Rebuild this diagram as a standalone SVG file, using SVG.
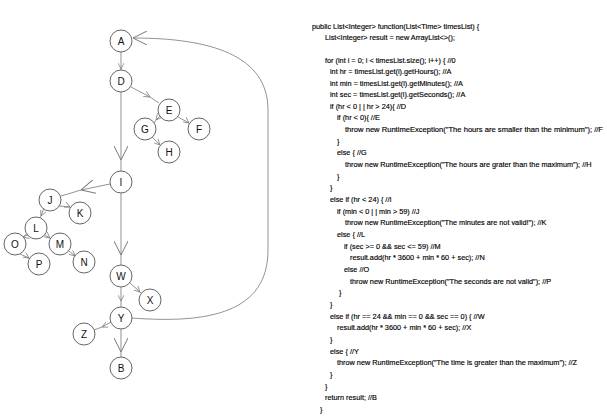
<svg xmlns="http://www.w3.org/2000/svg" width="607" height="418" viewBox="0 0 607 418">
<style>
.n circle{fill:#fff;stroke:#555;stroke-width:0.9}
.n text{font-family:"Liberation Sans",Arial,sans-serif;font-size:10px;fill:#111;text-anchor:middle}
.e path{fill:none;stroke:#777;stroke-width:0.8}
.c text{font-family:"Liberation Sans",Arial,sans-serif;font-size:7.3px;fill:#000;stroke:#000;stroke-width:0.15}
</style>
<defs>
<marker id="s" viewBox="0 0 10 10" refX="10" refY="5" markerWidth="6" markerHeight="6" orient="auto" markerUnits="userSpaceOnUse"><path d="M0,0 L10,5 L0,10" fill="none" stroke="#777" stroke-width="1.2"/></marker>
<marker id="b" viewBox="0 0 10 10" refX="10" refY="5" markerWidth="14" markerHeight="14" orient="auto" markerUnits="userSpaceOnUse"><path d="M0,0 L10,5 L0,10" fill="none" stroke="#777" stroke-width="0.7"/></marker>
</defs>
<rect width="607" height="418" fill="#fff"/>
<g class="e" id="connectors">
<path d="M121,52 L121,69 L121,70" marker-mid="url(#s)"/>
<path d="M121,92 L121,160 L121,171" marker-mid="url(#b)"/>
<path d="M131,87 L150,97 L159,103" marker-mid="url(#s)"/>
<path d="M160,116 L156,120 L154,123" marker-mid="url(#s)"/>
<path d="M178,117 L189,123 L190,124" marker-mid="url(#s)"/>
<path d="M152,137 L160,145 L161,146" marker-mid="url(#s)"/>
<path d="M110,184 L81,190 L61,196" marker-mid="url(#b)"/>
<path d="M121,193 L121,255 L121,265" marker-mid="url(#b)"/>
<path d="M59,206 L70,207 L71,208" marker-mid="url(#s)"/>
<path d="M44,208 L41,216 L40,218" marker-mid="url(#s)"/>
<path d="M45,235 L50,238 L51,239" marker-mid="url(#s)"/>
<path d="M29,234 L23,237 L22,237" marker-mid="url(#s)"/>
<path d="M20,254 L29,258 L30,259" marker-mid="url(#s)"/>
<path d="M69,251 L75,256 L76,257" marker-mid="url(#s)"/>
<path d="M130,283 L140,292 L141,293" marker-mid="url(#s)"/>
<path d="M121,287 L121,301 L121,307" marker-mid="url(#s)"/>
<path d="M111,322 L102,327 L94,330" marker-mid="url(#s)"/>
<path d="M121,329 L121,352 L121,357" marker-mid="url(#b)"/>
<path d="M132,318 C210,324 268,312 268,250 L268,110 C268,55 210,38 133,38" marker-end="url(#b)"/>
</g>
<g class="n" id="A"><circle cx="121" cy="41" r="11"/><text x="121" y="44.5">A</text></g>
<g class="n" id="D"><circle cx="121" cy="81" r="11"/><text x="121" y="84.5">D</text></g>
<g class="n" id="E"><circle cx="169" cy="110" r="11"/><text x="169" y="113.5">E</text></g>
<g class="n" id="F"><circle cx="199" cy="129" r="11"/><text x="199" y="132.5">F</text></g>
<g class="n" id="G"><circle cx="145" cy="129" r="11"/><text x="145" y="132.5">G</text></g>
<g class="n" id="H"><circle cx="169" cy="152" r="11"/><text x="169" y="155.5">H</text></g>
<g class="n" id="I"><circle cx="121" cy="182" r="11"/><text x="121" y="185.5">I</text></g>
<g class="n" id="J"><circle cx="50" cy="200" r="11"/><text x="50" y="203.5">J</text></g>
<g class="n" id="K"><circle cx="80" cy="213" r="11"/><text x="80" y="216.5">K</text></g>
<g class="n" id="L"><circle cx="36" cy="228" r="11"/><text x="36" y="231.5">L</text></g>
<g class="n" id="M"><circle cx="60" cy="244" r="11"/><text x="60" y="247.5">M</text></g>
<g class="n" id="N"><circle cx="84" cy="262" r="11"/><text x="84" y="265.5">N</text></g>
<g class="n" id="O"><circle cx="15" cy="244" r="11"/><text x="15" y="247.5">O</text></g>
<g class="n" id="P"><circle cx="39" cy="264" r="11"/><text x="39" y="267.5">P</text></g>
<g class="n" id="W"><circle cx="121" cy="276" r="11"/><text x="121" y="279.5">W</text></g>
<g class="n" id="X"><circle cx="150" cy="300" r="11"/><text x="150" y="303.5">X</text></g>
<g class="n" id="Y"><circle cx="121" cy="318" r="11"/><text x="121" y="321.5">Y</text></g>
<g class="n" id="Z"><circle cx="84" cy="334" r="11"/><text x="84" y="337.5">Z</text></g>
<g class="n" id="B"><circle cx="121" cy="368" r="11"/><text x="121" y="371.5">B</text></g>
<g class="c" id="code">
<text x="312" y="29">public List&lt;Integer&gt; function(List&lt;Time&gt; timesList) {</text>
<text x="325" y="40">List&lt;Integer&gt; result = new ArrayList&lt;&gt;();</text>
<text x="325" y="63">for (int i = 0; i &lt; timesList.size(); i++) {  //0</text>
<text x="330" y="74">int hr = timesList.get(i).getHours();   //A</text>
<text x="330" y="86">int min = timesList.get(i).getMinutes();  //A</text>
<text x="330" y="97">int sec = timesList.get(i).getSeconds();  //A</text>
<text x="330" y="109">if (hr &lt; 0 | | hr &gt; 24){ //D</text>
<text x="337" y="120">if (hr &lt; 0){  //E</text>
<text x="345" y="132" textLength="258" lengthAdjust="spacingAndGlyphs">throw new RuntimeException("The hours are smaller than the minimum"); //F</text>
<text x="337" y="144">}</text>
<text x="337" y="155">else { //G</text>
<text x="345" y="167">throw new RuntimeException("The hours are grater than the maximum"); //H</text>
<text x="337" y="179">}</text>
<text x="330" y="190">}</text>
<text x="330" y="202">else if (hr &lt; 24) { //I</text>
<text x="337" y="214">if (min &lt; 0 | | min &gt; 59)  //J</text>
<text x="345" y="225">throw new RuntimeException("The minutes are not valid!"); //K</text>
<text x="337" y="237">else { //L</text>
<text x="344" y="249">if (sec &gt;= 0 &amp;&amp; sec &lt;= 59)  //M</text>
<text x="350" y="260">result.add(hr * 3600 + min * 60 + sec); //N</text>
<text x="344" y="272">else  //O</text>
<text x="350" y="284">throw new RuntimeException("The seconds are not valid");  //P</text>
<text x="339" y="295">}</text>
<text x="330" y="307">}</text>
<text x="330" y="319">else if (hr == 24 &amp;&amp; min == 0 &amp;&amp; sec == 0) {  //W</text>
<text x="337" y="330">result.add(hr * 3600 + min * 60 + sec);  //X</text>
<text x="330" y="342">}</text>
<text x="330" y="354">else {  //Y</text>
<text x="337" y="365">throw new RuntimeException("The time is greater than the maximum"); //Z</text>
<text x="330" y="377">}</text>
<text x="325" y="389">}</text>
<text x="325" y="400">return result;  //B</text>
<text x="320" y="412">}</text>
</g>
</svg>
